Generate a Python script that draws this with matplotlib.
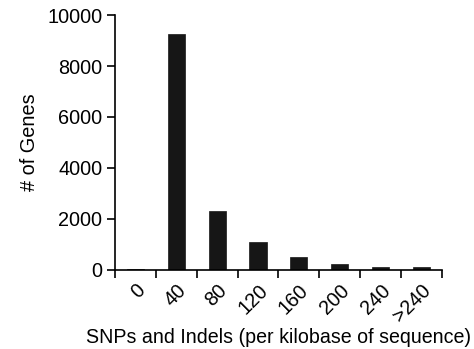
import matplotlib
matplotlib.use("Agg")
import matplotlib.pyplot as plt
import numpy as np

plt.rcParams['font.family'] = ['Liberation Sans', 'DejaVu Sans']

categories = ["0", "40", "80", "120", "160", "200", "240", ">240"]
gene_counts = [50, 9240, 2300, 1100, 510, 230, 110, 110]
y_ticks = [0, 2000, 4000, 6000, 8000, 10000]

fig = plt.figure(figsize=(4.74, 3.49), dpi=100)
ax = fig.add_axes([0.2426, 0.2264, 0.6894, 0.7306])

x = np.arange(len(categories))
ax.bar(x, gene_counts, width=0.42, color="#161616", edgecolor="#161616", linewidth=0.5)

ax.set_xlim(-0.5, len(categories) - 0.5)
ax.set_ylim(0, 10000)
ax.set_yticks(y_ticks)
ax.set_yticklabels([str(v) for v in y_ticks], fontsize=14.3)

# category boundaries carry the ticks, labels sit at bin centres
ax.set_xticks(np.arange(len(categories) + 1) - 0.5)
ax.set_xticklabels([])
ax.set_xticks(x, minor=True)
ax.set_xticklabels(categories, minor=True, rotation=45, ha="right",
                   rotation_mode="anchor", fontsize=14.3)
ax.tick_params(axis="x", which="minor", length=0, pad=8)
ax.tick_params(axis="x", which="major", length=6, width=1.2, direction="out")
ax.tick_params(axis="y", length=6, width=1.2, direction="out", pad=3)

for side in ("top", "right"):
    ax.spines[side].set_visible(False)
for side in ("left", "bottom"):
    ax.spines[side].set_linewidth(1.2)

ax.set_ylabel("# of Genes", fontsize=14.3, labelpad=6)
ax.set_xlabel("SNPs and Indels (per kilobase of sequence)", fontsize=14.1, labelpad=1)

fig.savefig("out.png", dpi=100)
